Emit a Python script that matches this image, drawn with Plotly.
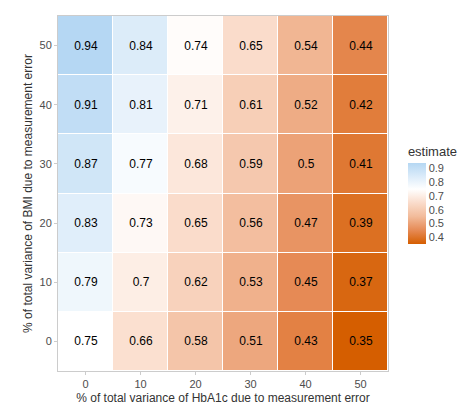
import plotly.graph_objects as go

x_labels = ["0", "10", "20", "30", "40", "50"]
y_labels = ["0", "10", "20", "30", "40", "50"]
z = [
    [0.75, 0.66, 0.58, 0.51, 0.43, 0.35],
    [0.79, 0.70, 0.62, 0.53, 0.45, 0.37],
    [0.83, 0.73, 0.65, 0.56, 0.47, 0.39],
    [0.87, 0.77, 0.68, 0.59, 0.50, 0.41],
    [0.91, 0.81, 0.71, 0.61, 0.52, 0.42],
    [0.94, 0.84, 0.74, 0.65, 0.54, 0.44],
]
text = [[f"{v:g}" for v in row] for row in z]

zmin, zmax = 0.35, 0.94
def p(v):
    return (v - zmin) / (zmax - zmin)
colorscale = [[0, "#D55E00"], [p(0.45), "#E68A55"], [p(0.55), "#F2BB9A"],
              [p(0.65), "#FADCCB"], [p(0.75), "#FFFFFF"], [1, "#B5D7F3"]]

fig = go.Figure(go.Heatmap(
    x=x_labels, y=y_labels, z=z, text=text, texttemplate="%{text}",
    textfont=dict(size=12, color="black"),
    colorscale=colorscale, zmin=zmin, zmax=zmax, xgap=1, ygap=1,
    colorbar=dict(title=dict(text="estimate<br> ", font=dict(size=13)),
                  tickvals=[0.4, 0.5, 0.6, 0.7, 0.8, 0.9],
                  len=0.34, thickness=18, x=1.03, xanchor="left", y=0.5,
                  outlinewidth=0, ticks="", 
                  tickfont=dict(size=11, color="#4d4d4d")),
))
fig.update_layout(
    width=474, height=405, margin=dict(l=50, r=94, t=8, b=42),
    paper_bgcolor="white", plot_bgcolor="white",
    font=dict(family="Liberation Sans, Arial", size=12, color="#333"),
)
fig.update_xaxes(title=dict(text="% of total variance of HbA1c due to measurement error", font=dict(size=12), standoff=4),
                 showline=True, linecolor="#cccccc", mirror=True, ticks="outside", ticklen=3,
                 tickcolor="#cccccc", tickfont=dict(color="#4d4d4d", size=11))
fig.update_yaxes(title=dict(text="% of total variance of BMI due to measurement error", font=dict(size=12), standoff=4),
                 showline=True, linecolor="#cccccc", mirror=True, ticks="outside", ticklen=3,
                 tickcolor="#cccccc", tickfont=dict(color="#4d4d4d", size=11))
fig.write_html("out.html")
